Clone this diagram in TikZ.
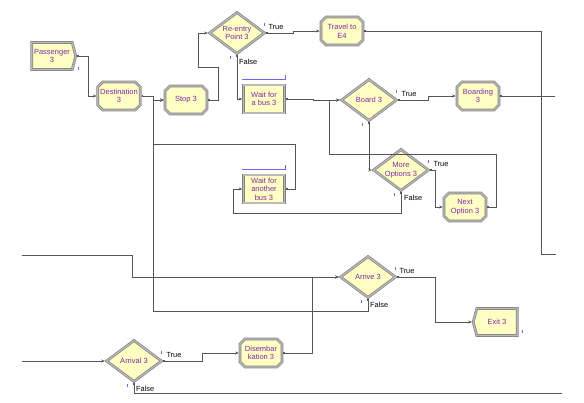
\documentclass[tikz,border=0pt]{standalone}
\usepackage{fontspec}
\setmainfont{Liberation Sans}
\usetikzlibrary{shapes.geometric,shapes.misc,shapes.symbols,arrows.meta,calc}
\definecolor{modfill}{RGB}{255,255,196}
\definecolor{modtext}{RGB}{128,40,165}
\definecolor{modedge}{RGB}{130,130,130}
\definecolor{modlight}{RGB}{185,185,185}
\definecolor{wire}{RGB}{85,85,85}
\definecolor{queueblue}{RGB}{105,105,245}
\begin{document}
\begin{tikzpicture}[
    x=1pt, y=-1pt,
    module/.style={draw=modedge, line width=0.7pt, double=modlight, double distance=1.3pt, fill=modfill, text=modtext, font=\fontsize{7.5}{8.6}\selectfont, align=center, inner sep=0pt, outer sep=1.3pt},
    process/.style={module, chamfered rectangle, chamfered rectangle sep=2.5pt, minimum width=42pt, minimum height=28pt},
    queue/.style={module, rectangle, minimum width=41pt, minimum height=28pt},
    decide/.style={module, diamond, aspect=1.3, minimum width=56pt, minimum height=42pt},
    create/.style={module, signal, signal to=east, signal pointer angle=150, minimum width=44pt, minimum height=27pt},
    dispose/.style={module, signal, signal to=west, signal pointer angle=150, minimum width=44pt, minimum height=27pt},
    flow/.style={draw=wire, line width=0.9pt, {Square[length=1.6pt,width=1.6pt]}-{Stealth[length=3.5pt,width=3pt]}},
    flowin/.style={draw=wire, line width=0.9pt, -{Stealth[length=3.5pt,width=3pt]}},
    flowout/.style={draw=wire, line width=0.9pt, {Square[length=1.6pt,width=1.6pt]}-},
    outlabel/.style={font=\fontsize{7.4}{8.6}\selectfont, inner sep=0pt, anchor=west},
    queueline/.style={draw=queueblue, line width=1.2pt},
    portmark/.style={draw=queueblue, line width=0.6pt}
]
\useasboundingbox (0,0) rectangle (584,403);

% Arrivee des passagers
\node[create] (passenger) at (52,56) {Passenger\\3};
\node[process] (destination) at (119,96) {Destination\\3};
\node[process] (stop) at (186,100) {Stop 3};
\node[decide] (reentry) at (237,33) {Re-entry\\Point 3};
\node[process] (travel) at (342,31) {Travel to\\E4};

% Attente et montee
\node[queue] (waitbus) at (264,99) {Wait for\\a bus 3};
\node[decide] (board) at (369,100) {Board 3};
\node[process] (boarding) at (478,96) {Boarding\\3};
\node[decide] (moreopt) at (401,170) {More\\Options 3};
\node[process] (nextopt) at (465,207) {Next\\Option 3};
\node[queue] (waitanother) at (264,189) {Wait for\\another\\bus 3};

% Descente
\node[decide] (arrive) at (368,277) {Arrive 3};
\node[dispose] (exit) at (497,322) {Exit 3};
\node[decide] (arrival) at (134,361) {Arrival 3};
\node[process] (disembark) at (261,353) {Disembar\\kation 3};

% Extremites libres
\coordinate (travelout) at (556,254);
\coordinate (boardingout) at (555,96);
\coordinate (arrivein) at (22,255);
\coordinate (arrivalin) at (22,361);
\coordinate (arrivalout) at (562,393);

% Files d'attente
\draw[queueline] ($(waitbus.north west)+(0,-4)$) -- ($(waitbus.north east)+(0,-4)$) -- ++(0,-5);
\draw[queueline] ($(waitanother.north west)+(0,-4)$) -- ($(waitanother.north east)+(0,-4)$) -- ++(0,-5);

% Connexions
\draw[flow] (passenger.east) -- ++(11,0) |- (destination.west);
\draw[flow] (destination.east) -- ++(12,0) |- (stop.west);
\draw[flow] (stop.east) -| (218,67) -| (198,33) -- (reentry.west);
\draw[flow] (reentry.east) -- (293,33) |- (travel.west);
\draw[flow] (reentry.south) |- (waitbus.west);
\draw[flowout] (travel.east) -| (541,254) -- (travelout);
\draw[flow] (waitbus.east) -- (313,99) |- (board.west);
\draw[flow] (board.east) -- (428,100) |- (boarding.west);
\draw[flowout] (boarding.east) -- (boardingout);
\draw[flow] (board.south) |- (moreopt.west);
\draw[flow] (moreopt.east) -- (435,170) |- (nextopt.west);
\draw[flow] (moreopt.south) -- (401,213) -| (233,189) -- (waitanother.west);
\draw[flow] (waitanother.east) -- (295,189) |- (153,144) |- (stop.west);
\draw[flow] (nextopt.east) -- (496,207) |- (329,154) |- (board.west);
\draw[flowin] (arrivein) -| (132,277) -- (arrive.west);
\draw[flow] (disembark.east) -| (312,277) -- (arrive.west);
\draw[flow] (arrive.east) -- (435,277) |- (exit.west);
\draw[flow] (arrive.south) -- (368,311) -| (153,100) -- (stop.west);
\draw[flowin] (arrivalin) -- (arrival.west);
\draw[flow] (arrival.east) -- (202,361) |- (disembark.west);
\draw[flowout] (arrival.south) |- (arrivalout);

% Etiquettes
\node[outlabel] (reentrytrue) at ($(reentry.east)+(2,-6)$) {True};
\node[outlabel] (reentryfalse) at ($(reentry.south)+(2,7)$) {False};
\node[outlabel] (boardtrue) at ($(board.east)+(3,-6)$) {True};
\node[outlabel] (moreopttrue) at ($(moreopt.east)+(3,-6)$) {True};
\node[outlabel] (moreoptfalse) at ($(moreopt.south)+(3,6)$) {False};
\node[outlabel] (arrivetrue) at ($(arrive.east)+(2,-6)$) {True};
\node[outlabel] (arrivefalse) at ($(arrive.south)+(2,6)$) {False};
\node[outlabel] (arrivaltrue) at ($(arrival.east)+(3,-6)$) {True};
\node[outlabel] (arrivalfalse) at ($(arrival.south)+(2,6)$) {False};

% Reperes des sorties
\foreach \d in {reentry,board,moreopt,arrive,arrival}{
    \draw[portmark] ($(\d.east)+(-2,-7)$) -- ++(0,-3);
    \draw[portmark] ($(\d.south)+(-7,1)$) -- ++(0,3);
}
\draw[portmark] ($(passenger.east)+(1,11)$) -- ++(0,3);
\draw[portmark] ($(exit.south east)+(4,-4)$) -- ++(0,3);

\end{tikzpicture}
\end{document}
